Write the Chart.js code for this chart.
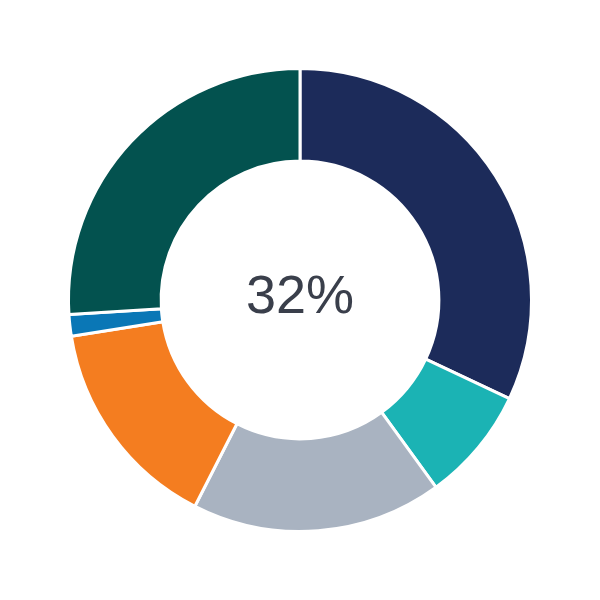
<!DOCTYPE html>
<html>
<head>
<meta charset="utf-8">
<script src="https://cdn.jsdelivr.net/npm/chart.js@4"></script>
<style>
  html, body { margin: 0; padding: 0; background: #fff; }
  .wrap { width: 600px; height: 600px; position: relative; }
</style>
</head>
<body>
<div class="wrap"><canvas id="donut"></canvas></div>
<script>
const labels = ['A', 'B', 'C', 'D', 'E', 'F'];
const values = [32, 8, 17.5, 15, 1.5, 26];
const colors = ['#1c2b5a', '#1bb3b4', '#a9b3c1', '#f47d20', '#0a77b6', '#03524f'];
const centerLabel = '32%';

// draws the big number in the hole
const centerText = {
    id: 'centerText',
    afterDraw(chart) {
        const { ctx, chartArea } = chart;
        const cx = (chartArea.left + chartArea.right) / 2;
        const cy = (chartArea.top + chartArea.bottom) / 2;
        ctx.save();
        ctx.font = '54px "Liberation Sans", Arial, sans-serif';
        ctx.fillStyle = '#3a3f4b';
        ctx.textAlign = 'center';
        ctx.textBaseline = 'middle';
        ctx.fillText(centerLabel, cx, cy - 2);
        ctx.restore();
    }
};

new Chart(document.getElementById('donut'), {
    type: 'doughnut',
    data: {
        labels: labels,
        datasets: [{
            data: values,
            backgroundColor: colors,
            borderColor: '#ffffff',
            borderWidth: 3
        }]
    },
    options: {
        responsive: true,
        maintainAspectRatio: false,
        animation: false,
        cutout: '60%',
        layout: { padding: 67 },
        plugins: {
            legend: { display: false },
            tooltip: { enabled: false }
        }
    },
    plugins: [centerText]
});
</script>
</body>
</html>
